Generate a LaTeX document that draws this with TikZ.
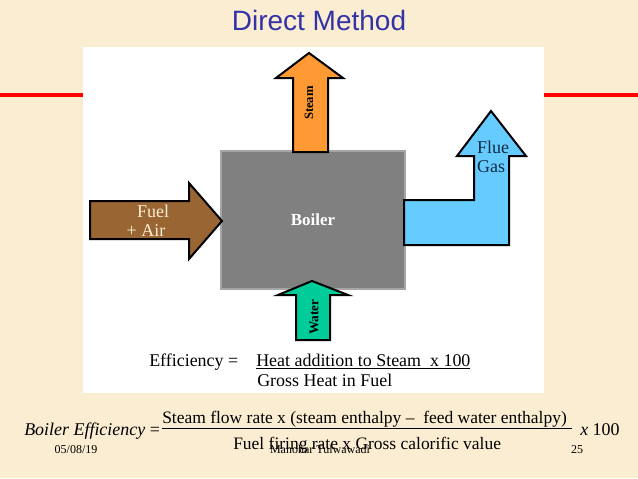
\documentclass[tikz,border=0pt]{standalone}
\usepackage{fontspec}
\setmainfont{Liberation Serif}
\setsansfont{Liberation Sans}
\usepackage{tikz}
\definecolor{parchment}{HTML}{FBEDD2}
\definecolor{titleblue}{HTML}{3333A8}
\definecolor{fuelbrown}{HTML}{996633}
\definecolor{steamorange}{HTML}{FF9933}
\definecolor{fluecyan}{HTML}{66CCFF}
\definecolor{watergreen}{HTML}{00CC99}
\definecolor{boilergrey}{HTML}{808080}
\definecolor{fluetext}{HTML}{0F2A44}
\begin{document}
\begin{tikzpicture}[x=0.75pt,y=-0.75pt]
\tikzset{flow/.style = {draw=black,line width=1.5pt,line join=miter}}
\tikzset{lbl/.style = {inner sep=0pt,font=\fontsize{13.5}{15}\selectfont}}
\tikzset{sidelbl/.style = {inner sep=0pt,rotate=90,font=\fontsize{9.5}{11}\selectfont\bfseries}}
\tikzset{eqn/.style = {inner sep=0pt,anchor=base west,font=\fontsize{13.1}{15}\selectfont}}
\tikzset{note/.style = {eqn,font=\fontsize{13.45}{15}\selectfont}}
\tikzset{foot/.style = {inner sep=0pt,anchor=base,font=\fontsize{9}{11}\selectfont}}
\useasboundingbox (0,0) rectangle (638,478);
% background
\fill[parchment] (0,0) rectangle (638,478);
\fill[red] (0,93) rectangle (638,97);
\fill[white] (83,47) rectangle (544,393);
% boiler
\fill[boilergrey!70] (220,150) rectangle (406,290);
\fill[boilergrey] (222,152) rectangle (404,288);
% arrows
\draw[flow,fill=steamorange] (293,152) -- (293,78) -- (276,78) -- (309,53) -- (343,78) -- (328,78) -- (328,152) -- cycle;
\draw[flow,fill=fuelbrown] (90,201) -- (189,201) -- (189,183) -- (222,221) -- (189,259) -- (189,239) -- (90,239) -- cycle;
\draw[flow,fill=fluecyan] (404,200) -- (474,200) -- (474,156) -- (457,156) -- (491,111) -- (526,156) -- (509,156) -- (509,245) -- (404,245) -- cycle;
\draw[flow,fill=watergreen] (296,340) -- (296,295) -- (278,295) -- (312,281) -- (348,295) -- (330,295) -- (330,340) -- cycle;
% labels
\node[inner sep=0pt,text=white,font=\fontsize{12.7}{15}\selectfont\bfseries] (boiler) at (313,220) {Boiler};
\node[sidelbl] (steam) at (309,103) {Steam};
\node[sidelbl,font=\fontsize{10}{11}\selectfont\bfseries] (water) at (314,317) {Water};
\node[lbl,text=parchment] (fuel) at (153,211) {Fuel};
\node[lbl,text=parchment] (air) at (146,231) {+ Air};
\node[lbl,text=fluetext] (flue) at (493,147) {Flue};
\node[lbl,text=fluetext] (gas) at (491,167) {Gas};
% efficiency
\node[note] (eff) at (149,366) {Efficiency =};
\node[note] (heat) at (256,366) {\underline{Heat addition to Steam\ \ x 100}};
\node[note] (gross) at (257,386) {Gross Heat in Fuel};
% formula
\node[note] (boilereff) at (24,435) {\textit{Boiler Efficiency} =};
\node[eqn] (flow) at (162,423) {Steam flow rate x (steam enthalpy \textendash\ \ feed water enthalpy)};
\node[eqn] (firing) at (233,449) {Fuel firing rate x Gross calorific value};
\node[note] (hundred) at (580,435) {\textit{x} 100};
\coordinate (barl) at (162,428);
\coordinate (barr) at (572,428);
\draw[line width=0.75pt] (barl) -- (barr);
% footer
\node[foot] (date) at (76,453) {05/08/19};
\node[foot] (name) at (320,453) {Manohar Tulwawadi};
\node[foot] (page) at (577,453) {25};
% title
\node[inner sep=0pt,text=titleblue,font=\sffamily\fontsize{21}{25}\selectfont] (title) at (319,20) {Direct Method};
\end{tikzpicture}
\end{document}
